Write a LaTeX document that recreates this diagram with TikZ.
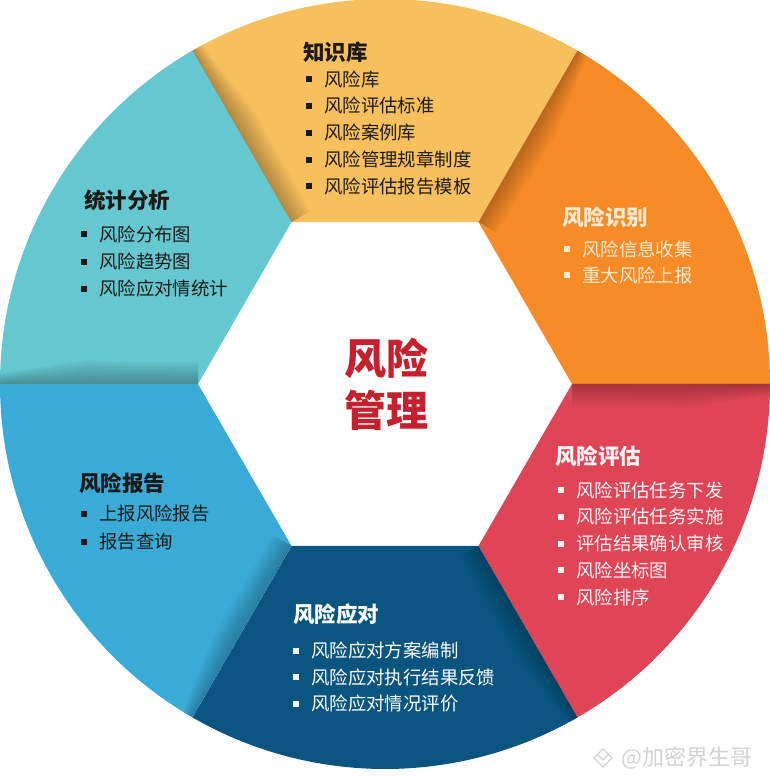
\documentclass[tikz,border=0pt]{standalone}
\usepackage{fontspec}
\setmainfont{Noto Sans CJK SC}
\usetikzlibrary{calc}
\definecolor{cYel}{HTML}{F8C05C}
\definecolor{cOra}{HTML}{F68B27}
\definecolor{cRed}{HTML}{DF4557}
\definecolor{cDbl}{HTML}{0A557F}
\definecolor{cLbl}{HTML}{3AABD7}
\definecolor{cTea}{HTML}{65C7D0}
\definecolor{cCen}{HTML}{C61F2D}
\definecolor{tDark}{HTML}{1C1A18}
\definecolor{tCream}{HTML}{FBEAD0}
\definecolor{tWhite}{HTML}{FBF4F4}
\definecolor{cWm}{HTML}{D2D2D2}
\newcommand\bul{\rule[4pt]{6pt}{6pt}\hspace{12pt}}
\newcommand\secpath[2]{(#1:385) arc[start angle=#1, end angle=#2, radius=385pt] -- (#2:187) -- (#1:187) -- cycle}
\newcommand\foldshade[3]{%
  \begin{scope}
    \clip \secpath{#1}{#2};
    \foreach \k in {1,...,9}
      \fill[black, opacity=#3] (#2:187) -- (#2:392) -- ($(#2:392)+(#2-90:\k*1.1)$) -- ($(#2:300)+(#2-90:\k*2.6)$) -- ($(#2:187)+(#2-90:\k*2.4)$) -- cycle;
  \end{scope}}
\tikzset{
  ttl/.style={anchor=west, inner sep=0pt, font=\fontsize{21.5}{25}\selectfont\bfseries},
  itm/.style={anchor=west, inner sep=0pt, font=\fontsize{18.4}{22}\selectfont},
  cen/.style={inner sep=0pt, text=cCen, font=\fontsize{42}{48}\selectfont\bfseries},
}
\begin{document}
\begin{tikzpicture}[x=1pt,y=1pt]
\useasboundingbox (0,0) rectangle (769,782);
\fill[white] (0,0) rectangle (769,782);
\begin{scope}[shift={(385,398)}]
  \fill[cYel] \secpath{60}{120};
  \fill[cOra] \secpath{0}{60};
  \fill[cRed] \secpath{-60}{0};
  \fill[cDbl] \secpath{-120}{-60};
  \fill[cLbl] \secpath{-180}{-120};
  \fill[cTea] \secpath{120}{180};
  \foldshade{60}{120}{0.032}
  \foldshade{0}{60}{0.028}
  \foldshade{-60}{0}{0.028}
  \foldshade{-120}{-60}{0.022}
  \foldshade{-180}{-120}{0.028}
  \foldshade{120}{180}{0.032}
\end{scope}
% centre
\node[cen] (c1) at (386,424) {风险};
\node[cen] (c2) at (386,372) {管理};
% yellow
\node[ttl, text=tDark] (yT) at (303,730) {知识库};
\foreach \t [count=\i] in {风险库,风险评估标准,风险案例库,风险管理规章制度,风险评估报告模板}
  \node[itm, text=tDark] (y\i) at (306,{703-26.8*(\i-1)}) {\bul\t};
% orange
\node[ttl, text=tCream] (oT) at (562,565) {风险识别};
\foreach \t [count=\i] in {风险信息收集,重大风险上报}
  \node[itm, text=tCream] (o\i) at (564,{533-26*(\i-1)}) {\bul\t};
% red
\node[ttl, text=tWhite] (rT) at (555,326) {风险评估};
\foreach \t [count=\i] in {风险评估任务下发,风险评估任务实施,评估结果确认审核,风险坐标图,风险排序}
  \node[itm, text=tWhite] (r\i) at (558,{292-26.75*(\i-1)}) {\bul\t};
% dark blue
\node[ttl, text=white] (dT) at (293,168) {风险应对};
\foreach \t [count=\i] in {风险应对方案编制,风险应对执行结果反馈,风险应对情况评价}
  \node[itm, text=white] (d\i) at (293,{131-26.5*(\i-1)}) {\bul\t};
% light blue
\node[ttl, text=tDark] (lT) at (79,299) {风险报告};
\foreach \t [count=\i] in {上报风险报告,报告查询}
  \node[itm, text=tDark] (l\i) at (81,{268-28*(\i-1)}) {\bul\t};
% teal
\node[ttl, text=tDark] (tT) at (84,582) {统计分析};
\foreach \t [count=\i] in {风险分布图,风险趋势图,风险应对情统计}
  \node[itm, text=tDark] (t\i) at (81,{548-27.5*(\i-1)}) {\bul\t};
% watermark
\node[anchor=west, inner sep=0pt, text=cWm, font=\fontsize{22}{24}\selectfont] (wm) at (621,24) {@加密界生哥};
\draw[cWm, line width=1.2pt] (603,33) -- (612,24) -- (603,15) -- (594,24) -- cycle;
\draw[cWm, line width=1.2pt] (598,27) -- (603,22) -- (608,27);
\end{tikzpicture}
\end{document}
